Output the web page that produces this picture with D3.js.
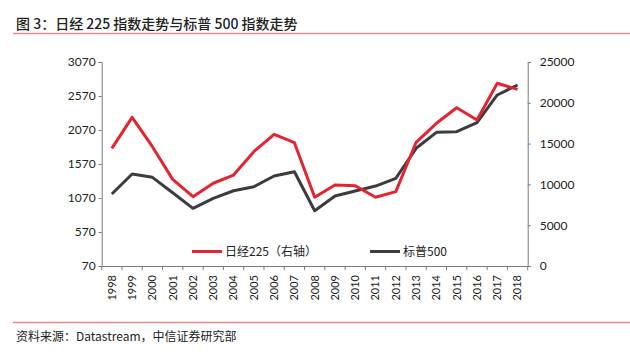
<!DOCTYPE html>
<html><head><meta charset="utf-8">
<script src="https://cdn.jsdelivr.net/npm/d3@7/dist/d3.min.js"></script>
<style>body{margin:0;background:#fff}svg{display:block}</style>
</head><body>
<svg id="c" width="630" height="354"></svg>
<script>
const years = ["1998","1999","2000","2001","2002","2003","2004","2005","2006","2007","2008","2009","2010","2011","2012","2013","2014","2015","2016","2017","2018"];
const nikkei = [14420,18220,14620,10620,8490,10140,11150,14010,16140,15110,8420,9930,9840,8420,9110,15160,17490,19400,17890,22390,21650];
const sp500 = [1129,1423,1374,1148,918,1065,1177,1236,1394,1457,883,1099,1173,1246,1360,1801,2036,2045,2177,2585,2732];
const leftTicks = [70,570,1070,1570,2070,2570,3070];
const rightTicks = [0,5000,10000,15000,20000,25000];
const titleText = "图 3：日经 225 指数走势与标普 500 指数走势";
const sourceText = "资料来源：Datastream，中信证券研究部";
const legendLabels = ["日经225（右轴）","标普500"];

const svg = d3.select("#c");
const cjk = "'Noto Sans CJK SC', sans-serif";
const num = "Lato, 'Noto Sans CJK SC', sans-serif";
const red = "#e32532", dark = "#3c3c3c", axisCol = "#7a7a7a";

const x0 = 101.7, x1 = 527.7, yTop = 62, yBot = 266;
const x = d3.scaleBand().domain(years).range([x0, x1]).padding(0);
const yL = d3.scaleLinear().domain([70, 3070]).range([yBot, yTop]);
const yR = d3.scaleLinear().domain([0, 25000]).range([yBot, yTop]);

// title
svg.append("text").attr("x", 16).attr("y", 29).attr("font-family", cjk)
  .attr("font-size", 14).attr("font-weight", 500).attr("fill", "#222").text(titleText);
svg.append("line").attr("x1", 13).attr("x2", 630).attr("y1", 33.5).attr("y2", 33.5)
  .attr("stroke", "#e28b8b").attr("stroke-width", 1.5);

// source
svg.append("line").attr("x1", 13).attr("x2", 630).attr("y1", 322.5).attr("y2", 322.5)
  .attr("stroke", "#e28b8b").attr("stroke-width", 1.5);
svg.append("text").attr("x", 16).attr("y", 341).attr("font-family", cjk)
  .attr("font-size", 12).attr("fill", "#222").text(sourceText);

// left axis
const gL = svg.append("g").attr("transform", `translate(${x0},0)`)
  .call(d3.axisLeft(yL).tickValues(leftTicks).tickSize(3).tickPadding(3).tickFormat(d3.format("d")));
// right axis
const gR = svg.append("g").attr("transform", `translate(${x1},0)`)
  .call(d3.axisRight(yR).tickValues(rightTicks).tickSize(3).tickPadding(9).tickFormat(d3.format("d")));
// x axis
const gX = svg.append("g").attr("transform", `translate(0,${yBot})`)
  .call(d3.axisBottom(x).tickSize(0).tickPadding(0));
gX.selectAll(".tick text").attr("transform", "rotate(-90)").attr("text-anchor", "end")
  .attr("x", -9).attr("y", 0).attr("dy", "0.35em");
// band boundary ticks
svg.append("g").selectAll("line").data(years.concat(["end"])).join("line")
  .attr("x1", (d, i) => x0 + i * x.bandwidth()).attr("x2", (d, i) => x0 + i * x.bandwidth())
  .attr("y1", yBot).attr("y2", yBot + 4).attr("stroke", axisCol);

[gL, gR, gX].forEach(g => {
  g.select(".domain").attr("stroke", axisCol);
  g.selectAll(".tick line").attr("stroke", axisCol);
  g.selectAll(".tick text").attr("font-family", num).attr("font-size", 12).attr("fill", "#222");
});
gX.selectAll(".tick text").attr("font-size", 11);
gX.select(".domain").attr("d", `M${x0},0.5H${x1}`);

const cx = d => x(d) + x.bandwidth() / 2;
svg.append("path").datum(sp500).attr("fill", "none").attr("stroke", dark).attr("stroke-width", 3)
  .attr("stroke-linejoin", "round")
  .attr("d", d3.line().x((d, i) => cx(years[i])).y(d => yL(d)));
svg.append("path").datum(nikkei).attr("fill", "none").attr("stroke", red).attr("stroke-width", 3)
  .attr("stroke-linejoin", "round")
  .attr("d", d3.line().x((d, i) => cx(years[i])).y(d => yR(d)));

// legend
const lg = [{t: legendLabels[0], c: red, x: 192}, {t: legendLabels[1], c: dark, x: 370}];
const lgG = svg.append("g");
lg.forEach(l => {
  lgG.append("line").attr("x1", l.x).attr("x2", l.x + 30).attr("y1", 251.5).attr("y2", 251.5)
    .attr("stroke", l.c).attr("stroke-width", 3);
  lgG.append("text").attr("x", l.x + 33).attr("y", 256).attr("font-family", cjk)
    .attr("font-size", 12).attr("fill", "#222").text(l.t);
});
</script>
</body></html>
